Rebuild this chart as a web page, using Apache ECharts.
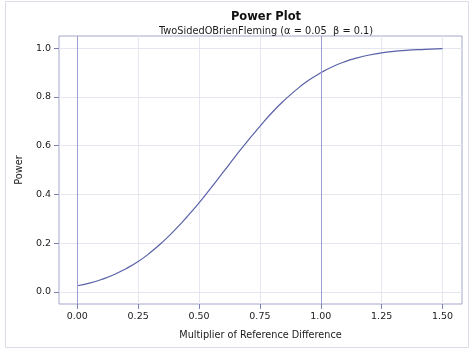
<!DOCTYPE html>
<html>
<head>
<meta charset="utf-8">
<script src="https://cdn.jsdelivr.net/npm/echarts@6/dist/echarts.min.js"></script>
<style>
  html, body { margin: 0; padding: 0; background: #fff; }
  #chart { width: 474px; height: 353px; }
</style>
</head>
<body>
<div id="chart"></div>
<script>
// 数据
var multipliers = [0, 0.05, 0.1, 0.15, 0.2, 0.25, 0.3, 0.35, 0.4, 0.45, 0.5, 0.55, 0.6, 0.65, 0.7, 0.75,
    0.8, 0.85, 0.9, 0.95, 1.0, 1.05, 1.1, 1.15, 1.2, 1.25, 1.3, 1.35, 1.4, 1.45, 1.5]
var power = [0.025, 0.036, 0.051, 0.070, 0.095, 0.124, 0.161, 0.204, 0.253, 0.307, 0.365, 0.428, 0.492,
    0.557, 0.620, 0.679, 0.736, 0.786, 0.830, 0.868, 0.899, 0.925, 0.945, 0.960, 0.972, 0.981,
    0.987, 0.991, 0.994, 0.996, 0.998]
var xTicks = [0, 0.25, 0.5, 0.75, 1.0, 1.25, 1.5]
var yTicks = [0, 0.2, 0.4, 0.6, 0.8, 1.0]
var refLines = [0, 1.0]

var font = 'DejaVu Sans'
var points = multipliers.map(function (m, i) { return [m, power[i]] })

var myChart = echarts.init(document.getElementById('chart'))
var option = {
    backgroundColor: '#fff',
    animation: false,
    title: {
        text: 'Power Plot',
        subtext: 'TwoSidedOBrienFleming (α = 0.05  β = 0.1)',
        left: 261,
        textAlign: 'center',
        top: 6,
        itemGap: 3,
        textStyle: { fontFamily: font, fontSize: 11.5, fontWeight: 'bold', color: '#111' },
        subtextStyle: { fontFamily: font, fontSize: 9.8, color: '#1a1a1a' }
    },
    // 外框
    graphic: [{
        type: 'rect',
        shape: { x: 5.5, y: 1.5, width: 463, height: 346 },
        style: { fill: 'none', stroke: '#dcdce6', lineWidth: 1 },
        silent: true
    }],
    grid: {
        show: true,
        left: 59,
        top: 36,
        right: 12,
        bottom: 49,
        borderColor: '#a4a8cc',
        borderWidth: 1
    },
    xAxis: [{
        type: 'value',
        min: -0.075,
        max: 1.58,
        name: 'Multiplier of Reference Difference',
        nameLocation: 'middle',
        nameGap: 26,
        nameTextStyle: { fontFamily: font, fontSize: 9.7, color: '#1a1a1a' },
        // 借助隐藏的y轴让x轴落在底边
        axisLine: { show: false, onZero: true, onZeroAxisIndex: 1 },
        axisTick: { show: true, length: 5, customValues: xTicks, lineStyle: { color: '#7c82b6', width: 1 } },
        axisLabel: {
            customValues: xTicks,
            fontFamily: font, fontSize: 9.5, color: '#1a1a1a', margin: 8,
            formatter: function (v) { return v.toFixed(2) }
        },
        splitLine: { show: true, lineStyle: { color: '#e6e6f0' } }
    }, {
        type: 'value', min: 0, max: 1, show: false
    }],
    yAxis: [{
        type: 'value',
        min: -0.05,
        max: 1.05,
        name: 'Power',
        nameLocation: 'middle',
        nameGap: 35,
        nameTextStyle: { fontFamily: font, fontSize: 9.7, color: '#1a1a1a' },
        axisLine: { show: false, onZero: true, onZeroAxisIndex: 1 },
        axisTick: { show: true, length: 5, customValues: yTicks, lineStyle: { color: '#7c82b6', width: 1 } },
        axisLabel: {
            customValues: yTicks,
            fontFamily: font, fontSize: 9.5, color: '#1a1a1a', margin: 8,
            formatter: function (v) { return v.toFixed(1) }
        },
        splitLine: { show: true, lineStyle: { color: '#e6e6f0' } }
    }, {
        type: 'value', min: 0, max: 1, show: false
    }],
    series: [{
        type: 'line',
        data: points,
        smooth: true,
        showSymbol: false,
        lineStyle: { color: '#5a61a8', width: 1.2 },
        markLine: {
            silent: true,
            symbol: ['none', 'none'],
            label: { show: false },
            lineStyle: { color: '#9aa0d2', type: 'solid', width: 1, opacity: 1 },
            emphasis: { disabled: true },
            data: refLines.map(function (v) { return { xAxis: v } })
        }
    }]
}
myChart.setOption(option)
</script>
</body>
</html>
